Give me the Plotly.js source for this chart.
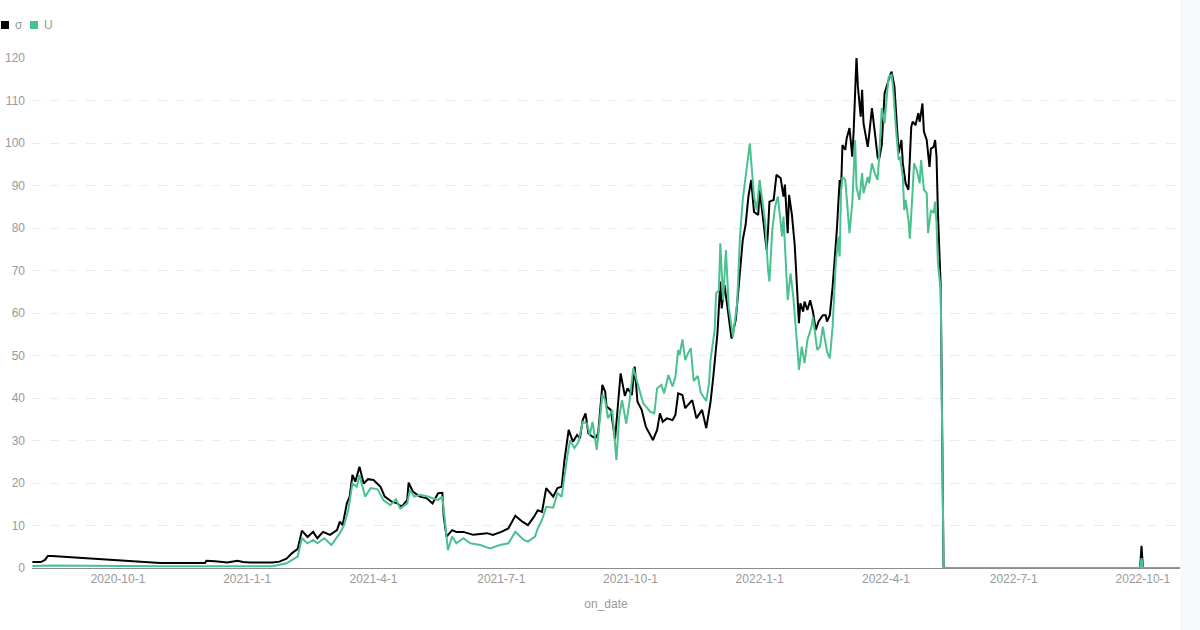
<!DOCTYPE html>
<html>
<head>
<meta charset="utf-8">
<script src="https://cdn.plot.ly/plotly-3.0.1.min.js"></script>
<style>html,body{margin:0;padding:0;background:#fff;}#chart{width:1200px;height:630px;}</style>
</head>
<body>
<div id="chart"></div>
<script>
// Series names
const seriesNames = ["σ", "U"];
const seriesColors = ["#000000", "#4ac18e"];

// σ series
const sigmaDates = [
"2020-08-01","2020-08-07","2020-08-10","2020-08-12","2020-08-15","2020-10-31","2020-12-02","2020-12-03","2020-12-09","2020-12-13",
"2020-12-18","2020-12-25","2020-12-29","2021-01-03","2021-01-19","2021-01-24","2021-01-29","2021-02-02","2021-02-06","2021-02-09",
"2021-02-13","2021-02-17","2021-02-20","2021-02-24","2021-03-01","2021-03-06","2021-03-08","2021-03-10","2021-03-13","2021-03-15",
"2021-03-17","2021-03-19","2021-03-22","2021-03-25","2021-03-28","2021-04-01","2021-04-06","2021-04-09","2021-04-14","2021-04-18",
"2021-04-21","2021-04-25","2021-04-26","2021-04-29","2021-05-04","2021-05-09","2021-05-13","2021-05-17","2021-05-20","2021-05-21",
"2021-05-23","2021-05-27","2021-05-30","2021-06-04","2021-06-11","2021-06-21","2021-06-25","2021-07-01","2021-07-06","2021-07-11",
"2021-07-16","2021-07-20","2021-07-24","2021-07-27","2021-07-30","2021-08-02","2021-08-07","2021-08-10","2021-08-13","2021-08-15",
"2021-08-18","2021-08-21","2021-08-24","2021-08-26","2021-08-28","2021-08-30","2021-09-01","2021-09-04","2021-09-06","2021-09-08",
"2021-09-11","2021-09-13","2021-09-14","2021-09-17","2021-09-20","2021-09-22","2021-09-24","2021-09-27","2021-09-29","2021-10-02",
"2021-10-04","2021-10-06","2021-10-09","2021-10-12","2021-10-17","2021-10-20","2021-10-22","2021-10-24","2021-10-27","2021-10-31",
"2021-11-02","2021-11-04","2021-11-07","2021-11-09","2021-11-14","2021-11-17","2021-11-21","2021-11-24","2021-11-27","2021-11-29",
"2021-12-02","2021-12-04","2021-12-05","2021-12-07","2021-12-10","2021-12-12","2021-12-15","2021-12-17","2021-12-20","2021-12-22",
"2021-12-24","2021-12-26","2021-12-28","2021-12-31","2022-01-01","2022-01-03","2022-01-06","2022-01-07","2022-01-08","2022-01-11",
"2022-01-13","2022-01-16","2022-01-18","2022-01-19","2022-01-21","2022-01-22","2022-01-24","2022-01-26","2022-01-28","2022-01-29",
"2022-01-30","2022-02-01","2022-02-02","2022-02-04","2022-02-06","2022-02-08","2022-02-10","2022-02-12","2022-02-15","2022-02-17",
"2022-02-18","2022-02-20","2022-02-22","2022-02-25","2022-02-27","2022-02-28","2022-03-01","2022-03-03","2022-03-04","2022-03-06",
"2022-03-08","2022-03-09","2022-03-11","2022-03-12","2022-03-14","2022-03-15","2022-03-16","2022-03-19","2022-03-20","2022-03-22",
"2022-03-24","2022-03-26","2022-03-27","2022-03-29","2022-03-31","2022-04-01","2022-04-03","2022-04-04","2022-04-05","2022-04-07",
"2022-04-09","2022-04-10","2022-04-12","2022-04-13","2022-04-15","2022-04-17","2022-04-19","2022-04-20","2022-04-22","2022-04-24",
"2022-04-25","2022-04-27","2022-04-28","2022-04-30","2022-05-02","2022-05-03","2022-05-05","2022-05-06","2022-05-07","2022-05-08",
"2022-05-10","2022-05-12","2022-05-13","2022-09-29","2022-09-30","2022-10-01","2022-10-27"
];
const sigmaValues = [
1.4,1.4,1.9,2.8,2.8,1.2,1.2,1.7,1.6,1.4,
1.3,1.7,1.4,1.3,1.3,1.5,2.2,3.5,4.5,8.8,
7.3,8.5,7.0,8.5,7.8,8.9,10.9,10.1,15.2,16.8,
21.9,20.3,23.8,19.9,20.9,20.7,19.1,16.8,15.6,15.2,
14.4,16.0,20.1,18.0,16.8,16.4,15.2,17.6,17.7,12.1,
7.4,8.9,8.5,8.5,7.8,8.2,7.8,8.5,9.3,12.3,
10.9,10.1,11.9,13.6,13.2,18.8,16.8,18.8,19.1,25.4,
32.5,29.7,31.3,30.5,34.8,36.4,31.7,30.9,30.5,31.7,
43.1,41.5,38.0,37.2,30.3,38.0,45.8,40.5,42.3,40.7,
47.4,39.1,37.2,33.2,30.1,32.5,36.4,34.4,35.2,34.8,
36.0,41.1,40.7,37.6,39.5,35.2,37.2,32.9,39.0,45.0,
55.4,67.4,61.1,66.6,59.1,54.0,58.4,65.4,77.2,80.7,
87.4,91.3,83.8,83.1,88.9,83.5,74.8,79.5,86.2,86.6,
92.5,91.7,87.4,90.2,78.8,87.8,83.1,76.0,63.0,57.6,
62.3,60.3,62.7,60.7,63.0,60.3,56.0,58.0,59.5,59.5,
58.0,59.5,66.2,79.5,91.3,89.0,99.5,98.4,101.1,103.5,
96.8,103.0,120.3,113.3,106.2,112.5,104.6,99.1,101.9,108.2,
102.7,96.8,96.0,99.5,111.7,112.9,114.8,116.0,116.8,113.3,
103.0,97.6,100.7,95.2,90.5,89.0,103.8,105.0,104.2,107.0,
105.0,109.3,102.7,100.7,94.4,98.7,99.1,100.7,96.8,83.5,
66.0,0.3,0,0,5.2,0,0
];

// U series
const uDates = [
"2020-08-01","2020-08-12","2020-08-15","2020-10-31","2020-12-02","2021-01-19","2021-01-29","2021-02-02","2021-02-06","2021-02-09",
"2021-02-13","2021-02-17","2021-02-20","2021-02-25","2021-03-02","2021-03-08","2021-03-11","2021-03-14","2021-03-17","2021-03-20",
"2021-03-22","2021-03-26","2021-03-30","2021-04-04","2021-04-08","2021-04-13","2021-04-17","2021-04-20","2021-04-25","2021-04-27",
"2021-04-30","2021-05-04","2021-05-09","2021-05-13","2021-05-17","2021-05-20","2021-05-22","2021-05-24","2021-05-27","2021-05-30",
"2021-06-04","2021-06-09","2021-06-16","2021-06-23","2021-06-30","2021-07-06","2021-07-11","2021-07-17","2021-07-20","2021-07-25",
"2021-07-27","2021-07-30","2021-08-02","2021-08-07","2021-08-10","2021-08-13","2021-08-17","2021-08-19","2021-08-22","2021-08-25",
"2021-08-28","2021-08-31","2021-09-02","2021-09-04","2021-09-07","2021-09-11","2021-09-13","2021-09-15","2021-09-18","2021-09-21",
"2021-09-23","2021-09-25","2021-09-28","2021-09-30","2021-10-03","2021-10-06","2021-10-10","2021-10-15","2021-10-18","2021-10-20",
"2021-10-23","2021-10-25","2021-10-28","2021-10-31","2021-11-02","2021-11-04","2021-11-05","2021-11-07","2021-11-09","2021-11-11",
"2021-11-13","2021-11-15","2021-11-18","2021-11-20","2021-11-24","2021-11-26","2021-11-27","2021-11-30","2021-12-01","2021-12-03",
"2021-12-04","2021-12-06","2021-12-08","2021-12-10","2021-12-13","2021-12-16","2021-12-18","2021-12-20","2021-12-23","2021-12-25",
"2021-12-28","2021-12-30","2022-01-01","2022-01-03","2022-01-05","2022-01-07","2022-01-08","2022-01-10","2022-01-12","2022-01-14",
"2022-01-16","2022-01-17","2022-01-18","2022-01-21","2022-01-23","2022-01-25","2022-01-28","2022-01-29","2022-01-31","2022-02-02",
"2022-02-04","2022-02-07","2022-02-08","2022-02-11","2022-02-13","2022-02-15","2022-02-18","2022-02-20","2022-02-22","2022-02-24",
"2022-02-26","2022-02-27","2022-02-28","2022-03-01","2022-03-03","2022-03-04","2022-03-06","2022-03-08","2022-03-10","2022-03-11",
"2022-03-13","2022-03-15","2022-03-16","2022-03-19","2022-03-20","2022-03-22","2022-03-24","2022-03-26","2022-03-27","2022-03-29",
"2022-03-31","2022-04-02","2022-04-03","2022-04-05","2022-04-06","2022-04-08","2022-04-10","2022-04-11","2022-04-13","2022-04-14",
"2022-04-15","2022-04-17","2022-04-18","2022-04-20","2022-04-21","2022-04-23","2022-04-25","2022-04-26","2022-04-28","2022-04-30",
"2022-05-01","2022-05-03","2022-05-05","2022-05-06","2022-05-07","2022-05-08","2022-05-10","2022-05-12","2022-05-13","2022-09-29",
"2022-09-30","2022-10-01","2022-10-27"
];
const uValues = [
0.5,0.6,0.6,0.4,0.4,0.4,1.1,1.9,2.7,7.0,
5.8,6.6,5.8,7.0,5.4,8.2,10.1,13.6,19.9,19.1,
21.9,16.8,18.8,18.5,16.0,14.8,16.2,14.0,15.2,18.4,
16.8,17.2,16.9,16.4,16.0,16.8,9.7,4.2,7.4,5.8,
7.0,5.8,5.4,4.6,5.4,5.8,8.5,6.6,6.2,7.4,
9.3,11.3,14.4,14.2,17.6,16.8,26.2,30.1,28.2,29.7,
34.4,34.0,31.3,34.4,27.8,40.8,39.5,35.2,37.2,25.4,
35.6,39.5,34.0,38.4,47.0,43.5,38.8,36.8,36.4,42.3,
43.1,41.1,45.4,42.7,45.0,51.3,50.1,53.8,48.9,50.5,
51.7,44.0,45.2,41.3,39.3,43.5,48.9,56.0,64.6,65.4,
76.4,63.0,74.8,61.5,54.4,62.3,78.0,86.6,95.2,99.9,
87.4,84.2,91.3,86.6,81.2,70.1,67.4,79.5,85.0,87.4,
80.0,78.0,82.7,63.0,69.3,63.8,51.3,46.6,52.1,48.2,
53.6,56.8,59.1,51.3,52.1,56.8,50.9,49.3,56.8,70.5,
78.0,73.3,89.0,92.0,91.3,87.4,78.8,85.8,100.7,89.7,
86.6,92.9,88.2,92.0,90.5,95.2,92.9,91.3,96.0,108.2,
104.6,112.5,115.6,116.0,113.3,103.8,96.0,96.8,92.0,84.2,
86.6,81.9,77.5,89.0,95.2,93.6,90.5,96.0,89.0,88.2,
78.8,84.2,83.5,86.2,81.1,71.7,65.4,0.3,0,0,
2.3,0,0
];

// Axis
const xAxisTitle = "on_date";
const yTickValues = [0,10,20,30,40,50,60,70,80,90,100,110,120];

const FONT = "'Liberation Sans', Arial, sans-serif";
const GRAY = "#999999";

const traces = [
  {x: sigmaDates, y: sigmaValues, name: seriesNames[0], type: "scatter", mode: "lines",
   line: {color: seriesColors[0], width: 2}, showlegend: false},
  {x: uDates, y: uValues, name: seriesNames[1], type: "scatter", mode: "lines",
   line: {color: seriesColors[1], width: 2}, showlegend: false}
];

// plot area geometry (pixels) for legend placement
const L = 32, R = 20, T = 58, B = 62, W = 1200 - L - R, H = 630 - T - B;
const px = v => (v - L) / W;
const py = v => (630 - B - v) / H;

const legendX = [1, 30];
const shapes = [
  {type: "rect", xref: "paper", yref: "paper", x0: 1, x1: (1200 - L) / W, y0: -B / H, y1: 1 + T / H,
   fillcolor: "#f7f8fa", line: {width: 0}, layer: "below"}
];
const annotations = [];
seriesNames.forEach((n, i) => {
  shapes.push({type: "rect", xref: "paper", yref: "paper",
    x0: px(legendX[i]), x1: px(legendX[i] + 8), y0: py(29), y1: py(21),
    fillcolor: seriesColors[i], line: {width: 0}});
  annotations.push({xref: "paper", yref: "paper", x: px(legendX[i] + 12), y: py(25),
    xanchor: "left", yanchor: "middle", showarrow: false, text: n,
    font: {family: FONT, size: 12, color: GRAY}});
});

const layout = {
  width: 1200, height: 630,
  margin: {l: L, r: R, t: T, b: B, pad: 0},
  paper_bgcolor: "#ffffff", plot_bgcolor: "#ffffff",
  font: {family: FONT, size: 12, color: GRAY},
  showlegend: false,
  xaxis: {
    type: "date",
    range: ["2020-07-31 18:00", "2022-10-27 10:00"],
    tick0: "2020-10-01", dtick: "M3", tickformat: "%Y-%-m-%-d",
    showgrid: false, zeroline: false,
    showline: true, linecolor: "#8c8c8c", linewidth: 1,
    ticks: "", tickfont: {family: FONT, size: 12, color: GRAY},
    title: {text: xAxisTitle, font: {family: FONT, size: 12, color: GRAY}, standoff: 14},
    automargin: false
  },
  yaxis: {
    range: [0, 120], tickmode: "array", tickvals: yTickValues,
    showgrid: true, gridcolor: "#ebebeb", griddash: "dash", gridwidth: 1,
    zeroline: false, showline: false, ticks: "",
    ticklabelstandoff: 6,
    tickfont: {family: FONT, size: 12, color: GRAY},
    automargin: false
  },
  shapes: shapes,
  annotations: annotations
};

Plotly.newPlot("chart", traces, layout, {displayModeBar: false, staticPlot: true});
</script>
</body>
</html>
